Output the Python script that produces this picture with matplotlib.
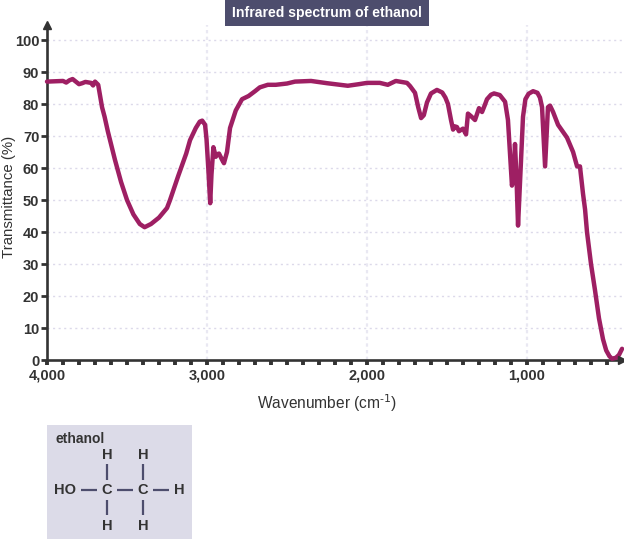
import matplotlib
matplotlib.use("Agg")
import matplotlib.pyplot as plt
from matplotlib.patches import Rectangle

plt.rcParams["font.family"] = ["Liberation Sans", "DejaVu Sans"]
plt.rcParams["mathtext.default"] = "regular"

# values
wavenumber = [4000, 3950, 3900, 3880, 3860, 3840, 3820, 3800, 3780, 3760, 3725, 3712, 3700, 3680, 3656,
              3640, 3620, 3575, 3537, 3500, 3460, 3420, 3390, 3350, 3300, 3250, 3231, 3180, 3130, 3106,
              3070, 3045, 3030, 3012, 3003, 2992, 2980, 2972, 2960, 2945, 2937, 2925, 2905, 2894, 2875,
              2856, 2820, 2781, 2740, 2700, 2670, 2620, 2570, 2500, 2450, 2350, 2250, 2120, 2050, 2000,
              1920, 1870, 1820, 1750, 1731, 1700, 1680, 1662, 1645, 1625, 1600, 1563, 1530, 1510, 1494,
              1475, 1462, 1450, 1438, 1425, 1400, 1381, 1369, 1350, 1325, 1300, 1281, 1265, 1250, 1225,
              1206, 1170, 1137, 1119, 1108, 1094, 1083, 1075, 1065, 1056, 1045, 1031, 1025, 1010, 990,
              962, 935, 919, 906, 897, 887, 878, 869, 856, 837, 806, 750, 712, 687, 669, 650, 637, 625,
              600, 575, 550, 525, 505, 485, 469, 444, 425, 406]
transmittance = [87, 87.1, 87.2, 86.7, 87.4, 87.8, 87, 86.2, 86.5, 86.9, 86.6, 85.8, 87, 86, 79,
                 76, 71.5, 62.5, 55.6, 50, 45.5, 42.5, 41.5, 42.5, 44.5, 47.5, 50, 57.5, 64.5, 68.7,
                 72.5, 74.5, 74.8, 73.5, 69, 60, 49, 58, 66.5, 63.5, 64.3, 64.5, 62.5, 61.5, 65,
                 72.5, 78, 81.5, 82.5, 84, 85.2, 86, 86, 86.4, 87, 87.2, 86.5, 85.7, 86.2, 86.6,
                 86.6, 86, 87.2, 86.6, 85.6, 83.5, 79, 75.6, 76.5, 80.5, 83.3, 84.4, 83.6, 82, 80,
                 75, 72, 73, 72.8, 71.5, 72.3, 70.5, 77, 76.2, 75, 78.7, 77.5, 79.5, 81.5, 82.9,
                 83.3, 82.8, 80.7, 75, 66, 54.5, 58, 67.5, 56, 42, 54, 70, 76, 81.5, 83.2,
                 84, 83.5, 82, 79, 70, 60.5, 70, 79, 79.5, 77.5, 73.5, 69.5, 65, 60.5, 60.5, 52, 47, 40,
                 30, 21.8, 13, 6.5, 3, 1.2, 0.4, 0.7, 1.6, 3.5]

y_ticks = [0, 10, 20, 30, 40, 50, 60, 70, 80, 90, 100]
x_major = [4000, 3000, 2000, 1000]
x_minor = [w for w in range(3900, 400, -100) if w not in x_major]
title = "Infrared spectrum of ethanol"

DARK = "#333333"
LINE = "#9e1f63"
SLATE = "#4d4d6d"
GRID = "#dcd9ea"

W, H = 624, 539
fig = plt.figure(figsize=(W / 100, H / 100), dpi=100)

# axes placed so 4000 -> x=47px, 160px per 1000, 0 -> y=360px, 3.2px per unit
left, right, bottom, top = 47, 622, 360, 25
ax = fig.add_axes([left / W, 1 - bottom / H, (right - left) / W, (bottom - top) / H])
ax.set_xlim(4000, 4000 - (right - left) * 6.25)
ax.set_ylim(0, (bottom - top) / 3.2)

for v in y_ticks[1:]:
    ax.axhline(v, color=GRID, lw=1.0, ls=(0, (1.5, 2.5)), zorder=1)
for w in x_major[1:]:
    ax.axvline(w, color="#e9e8f2", lw=1.6, ls=(0, (1.5, 1.5)), zorder=1)

ax.plot(wavenumber, transmittance, color=LINE, lw=3.2, solid_joinstyle="round",
        solid_capstyle="round", clip_on=False, zorder=3)

for s in ["top", "right"]:
    ax.spines[s].set_visible(False)
for s in ["left", "bottom"]:
    ax.spines[s].set_color(DARK)
    ax.spines[s].set_linewidth(1.9)

ax.set_yticks(y_ticks)
ax.set_xticks(x_major)
ax.set_xticklabels([f"{w:,}" for w in x_major], fontsize=10.5, fontweight="bold", color=DARK)
ax.set_xticks(x_minor, minor=True)
ax.tick_params(axis="y", length=4, width=2, color=DARK, labelsize=10.5, labelcolor=DARK, pad=1.5)
ax.tick_params(axis="x", which="both", length=3.5, width=2.8, color=DARK, pad=2.5)
for lab in ax.get_yticklabels():
    lab.set_fontweight("bold")

# arrow heads on the axes
ax.plot(0, 1, "^", transform=ax.transAxes, color=DARK, ms=6, clip_on=False, zorder=4)
ax.plot(1, 0, ">", transform=ax.transAxes, color=DARK, ms=6, clip_on=False, zorder=4)

# overlay in pixel coordinates for title, labels and the molecule panel
ov = fig.add_axes([0, 0, 1, 1])
ov.set_xlim(0, W)
ov.set_ylim(H, 0)
ov.axis("off")
ov.patch.set_alpha(0)

ov.add_patch(Rectangle((225, 0), 204, 26, color=SLATE, lw=0))
ov.text(327, 13, title, color="white", fontsize=10.1, fontweight="bold", ha="center", va="center")

ov.text(327, 403, r"Wavenumber (cm$^{\text{-1}}$)", color=DARK, fontsize=11.2, ha="center", va="center")
ov.text(9, 197, "Transmittance (%)", color=DARK, fontsize=10.8, rotation=90, ha="center", va="center")

ov.add_patch(Rectangle((47, 425), 145, 114, color="#dcdbe8", lw=0))
ov.text(55, 439, "ethanol", color=DARK, fontsize=10, fontweight="bold", ha="left", va="center")

atoms = [("H", 107, 455), ("H", 143, 455), ("HO", 65, 490), ("C", 106.5, 490),
         ("C", 142.5, 490), ("H", 179, 490), ("H", 107, 526), ("H", 143, 526)]
for label, px, py in atoms:
    ov.text(px, py, label, color=DARK, fontsize=10.5, fontweight="bold", ha="center", va="center")

bonds = [((107, 107), (464, 480)), ((143, 143), (464, 480)),
         ((107, 107), (500, 515)), ((143, 143), (500, 515)),
         ((81, 97), (490, 490)), ((117, 133), (490, 490)), ((153, 169), (490, 490))]
for xs, ys in bonds:
    ov.plot(xs, ys, color=SLATE, lw=1.6, solid_capstyle="butt")

fig.savefig("out.png", dpi=100)
